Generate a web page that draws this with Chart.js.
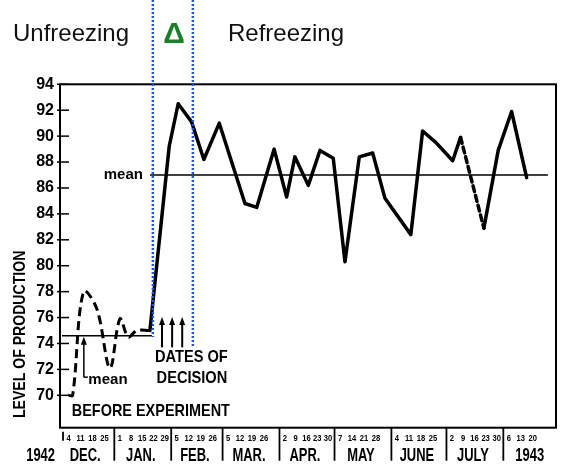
<!DOCTYPE html>
<html>
<head>
<meta charset="utf-8">
<script src="https://cdn.jsdelivr.net/npm/chart.js@4.4.0/dist/chart.umd.min.js"></script>
<style>
    html, body { margin: 0; padding: 0; background: #fff; }
    #wrap { position: relative; width: 564px; height: 473px; overflow: hidden; }
    #chart { position: absolute; left: 0; top: 0; }
    .phase {
        position: absolute; top: 19px; line-height: 28px;
        font-family: 'Liberation Sans', Arial, sans-serif; font-size: 24px; color: #111;
    }
    #delta {
        top: 16px; left: 154px; width: 40px; text-align: center;
        font-size: 30px; line-height: 34px; font-weight: bold; color: #1b7f2a;
    }
</style>
</head>
<body>
<div id="wrap">
    <canvas id="chart" width="564" height="473"></canvas>
    <div class="phase" style="left: 13px;">Unfreezing</div>
    <div class="phase" id="delta">Δ</div>
    <div class="phase" style="left: 228px;">Refreezing</div>
</div>
<script>
// x values are days counted from 1 Dec 1942
const yTicks = [70, 72, 74, 76, 78, 80, 82, 84, 86, 88, 90, 92, 94];
const weekLabels = ['4', '11', '18', '25', '1', '8', '15', '22', '29', '5', '12', '19', '26',
    '5', '12', '19', '26', '2', '9', '16', '23', '30', '7', '14', '21', '28',
    '4', '11', '18', '25', '2', '9', '16', '23', '30', '6', '13', '20'];
const weekDays = [3, 10, 17, 24, 31, 38, 45, 52, 59, 66, 73, 80, 87,
    94, 101, 108, 115, 122, 129, 136, 143, 150, 157, 164, 171, 178,
    185, 192, 199, 206, 213, 220, 227, 234, 241, 248, 255, 262];
const monthNames = ['DEC.', 'JAN.', 'FEB.', 'MAR.', 'APR.', 'MAY', 'JUNE', 'JULY'];
const monthStartDays = [0, 31, 62, 90, 121, 151, 182, 212, 243];
const yearLabels = ['1942', '1943'];

// before experiment (dashed)
const beforeDays = [5.9, 8.3, 14.2, 21.4, 28.6, 34.1, 38.6, 43.2, 50.4];
const beforeLevels = [70.0, 70.0, 78.0, 76.7, 72.1, 75.9, 74.5, 75.0, 75.0];

// after decision (solid)
const afterDays = [50.4, 60.9, 65.8, 73.1, 79.8, 88.2, 102.2, 108.6, 118.1, 124.9, 129.4,
    136.7, 143.1, 150.3, 156.7, 164.5, 171.8, 178.5, 192.6, 199.0, 206.3, 215.4,
    219.7, 232.4, 240.2, 247.5, 255.7];
const afterLevels = [75.0, 89.2, 92.5, 91.1, 88.2, 91.0, 84.8, 84.5, 89.0, 85.3, 88.4,
    86.2, 88.9, 88.3, 80.3, 88.4, 88.7, 85.2, 82.4, 90.4, 89.5, 88.1,
    89.9, 82.9, 88.9, 91.9, 86.8];
const dashedAfterIndex = 22; // segment drawn dashed in July

const meanBefore = 74.6;
const meanBeforeSpan = [2.5, 51.5];
const meanAfter = 87.0;
const meanAfterSpan = [50.4, 267.3];

const decisionDays = [57, 62.5, 68];
const boundaryDays = [52.0, 73.8];
const boundaryBottoms = [74.5, 73.7];

const FONT = "'Liberation Sans', Arial, sans-serif";

function squeezeText(ctx, text, px, py, font, sx, align) {
    ctx.save();
    ctx.font = font;
    ctx.textBaseline = 'middle';
    ctx.textAlign = align || 'center';
    ctx.translate(px, py);
    ctx.scale(sx, 1);
    ctx.fillText(text, 0, 0);
    ctx.restore();
}

function arrowUp(ctx, px, yTop, yBottom) {
    ctx.beginPath();
    ctx.moveTo(px, yBottom);
    ctx.lineTo(px, yTop + 6);
    ctx.stroke();
    ctx.beginPath();
    ctx.moveTo(px, yTop);
    ctx.lineTo(px - 3, yTop + 8);
    ctx.lineTo(px + 3, yTop + 8);
    ctx.closePath();
    ctx.fill();
}

const decor = {
    id: 'decor',
    afterDraw(chart) {
        const { ctx, chartArea: a, scales: { x, y } } = chart;
        ctx.save();
        ctx.strokeStyle = '#000';
        ctx.fillStyle = '#000';

        // frame
        ctx.lineWidth = 2;
        ctx.strokeRect(a.left, a.top, a.right - a.left, a.bottom - a.top);

        // y ticks crossing the axis
        ctx.lineWidth = 1.5;
        yTicks.forEach(v => {
            const py = y.getPixelForValue(v);
            ctx.beginPath();
            ctx.moveTo(a.left - 3, py);
            ctx.lineTo(a.left + 9, py);
            ctx.stroke();
        });

        // month strip below the axis
        const sepPx = monthStartDays.map((d, i) => i === 0 ? a.left + 3 : x.getPixelForValue(d));
        ctx.lineWidth = 1.8;
        sepPx.forEach((px, i) => {
            ctx.beginPath();
            ctx.moveTo(px, i === 0 ? a.bottom + 4 : a.bottom);
            ctx.lineTo(px, i === 0 ? a.bottom + 13 : a.bottom + 33);
            ctx.stroke();
        });

        // week dates, packed inside each month box like the original strip
        const weekFont = 'bold 9.5px ' + FONT;
        sepPx.forEach((l, m) => {
            const nextDay = m + 1 < monthStartDays.length ? monthStartDays[m + 1] : monthStartDays[m] + 31;
            const r = x.getPixelForValue(nextDay);
            const labels = weekLabels.filter((t, i) => weekDays[i] >= monthStartDays[m] && weekDays[i] < nextDay);
            if (!labels.length) return;
            const step = labels.length > 1 ? Math.min((r - l - 12) / (labels.length - 1), 12) : 0;
            labels.forEach((t, k) => {
                squeezeText(ctx, t, l + 5.5 + k * step, a.bottom + 10.5, weekFont, 0.8);
            });
        });

        const monthFont = 'bold 18px ' + FONT;
        const my = a.bottom + 28;
        monthNames.forEach((m, i) => {
            const l = i === 0 ? a.left : sepPx[i];
            const r = sepPx[i + 1];
            squeezeText(ctx, m, (l + r) / 2 - 2, my, monthFont, 0.72);
        });
        squeezeText(ctx, yearLabels[0], a.left - 5, my, monthFont, 0.72, 'right');
        squeezeText(ctx, yearLabels[1], (sepPx[8] + a.right) / 2, my, monthFont, 0.72);

        // y axis title
        ctx.save();
        ctx.translate(21, y.getPixelForValue(74.7));
        ctx.rotate(-Math.PI / 2);
        squeezeText(ctx, 'LEVEL OF PRODUCTION', 0, 0, 'bold 16px ' + FONT, 0.88);
        ctx.restore();

        // mean labels
        const meanFont = 'bold 15px ' + FONT;
        squeezeText(ctx, 'mean', x.getPixelForValue(meanAfterSpan[0]) - 7, y.getPixelForValue(meanAfter),
            meanFont, 1, 'right');
        const ax = x.getPixelForValue(14.4);
        const ayTop = y.getPixelForValue(meanBefore) + 1;
        const ayBot = y.getPixelForValue(71.4);
        ctx.lineWidth = 1.5;
        arrowUp(ctx, ax, ayTop, ayBot);
        ctx.beginPath();
        ctx.moveTo(ax, ayBot);
        ctx.lineTo(ax + 4, ayBot);
        ctx.stroke();
        squeezeText(ctx, 'mean', ax + 4.5, y.getPixelForValue(71.2), meanFont, 1, 'left');

        // dates of decision
        ctx.lineWidth = 2;
        decisionDays.forEach(d => {
            arrowUp(ctx, x.getPixelForValue(d), y.getPixelForValue(76.05), y.getPixelForValue(73.7));
        });
        const noteFont = 'bold 17px ' + FONT;
        squeezeText(ctx, 'DATES OF', x.getPixelForValue(73.0), y.getPixelForValue(72.9), noteFont, 0.86);
        squeezeText(ctx, 'DECISION', x.getPixelForValue(73.3), y.getPixelForValue(71.3), noteFont, 0.86);
        squeezeText(ctx, 'BEFORE EXPERIMENT', x.getPixelForValue(50.9), y.getPixelForValue(68.75), noteFont, 0.85);

        // blue dotted phase boundaries
        ctx.strokeStyle = '#1f52ee';
        ctx.lineWidth = 2.5;
        ctx.setLineDash([2, 2]);
        boundaryDays.forEach((d, i) => {
            const px = x.getPixelForValue(d);
            ctx.beginPath();
            ctx.moveTo(px, 0);
            ctx.lineTo(px, y.getPixelForValue(boundaryBottoms[i]));
            ctx.stroke();
        });
        ctx.restore();
    }
};

const toPoints = (xs, ys) => xs.map((v, i) => ({ x: v, y: ys[i] }));

new Chart(document.getElementById('chart'), {
    type: 'line',
    data: {
        datasets: [
            {
                label: 'Before experiment',
                data: toPoints(beforeDays, beforeLevels),
                borderColor: '#000',
                borderWidth: 3,
                borderDash: [9, 5],
                tension: 0.35,
                pointRadius: 0,
                fill: false
            },
            {
                label: 'After decision',
                data: toPoints(afterDays, afterLevels),
                borderColor: '#000',
                borderWidth: 3.5,
                borderJoinStyle: 'round',
                borderCapStyle: 'round',
                pointRadius: 0,
                fill: false,
                segment: {
                    borderDash: c => c.p0DataIndex === dashedAfterIndex ? [6, 4] : undefined
                }
            },
            {
                label: 'Mean before',
                data: meanBeforeSpan.map(d => ({ x: d, y: meanBefore })),
                borderColor: '#000',
                borderWidth: 1.5,
                pointRadius: 0
            },
            {
                label: 'Mean after',
                data: meanAfterSpan.map(d => ({ x: d, y: meanAfter })),
                borderColor: '#000',
                borderWidth: 1.5,
                pointRadius: 0
            }
        ]
    },
    options: {
        responsive: false,
        animation: false,
        devicePixelRatio: 1,
        layout: { padding: { top: 84.3, right: 8, bottom: 0, left: 0 } },
        plugins: {
            legend: { display: false },
            tooltip: { enabled: false }
        },
        scales: {
            x: {
                type: 'linear',
                min: 1.4,
                max: 271.7,
                afterBuildTicks: s => { s.ticks = weekDays.map(v => ({ value: v })); },
                afterFit: s => { s.height = 45.3; },
                grid: { display: false, drawTicks: false },
                border: { display: false },
                ticks: { display: false }
            },
            y: {
                min: 67.5,
                max: 94,
                afterBuildTicks: s => { s.ticks = yTicks.map(v => ({ value: v })); },
                afterFit: s => { s.width = 60; },
                grid: { display: true, drawOnChartArea: false, drawTicks: false },
                border: { display: false },
                ticks: {
                    padding: 6,
                    color: '#000',
                    font: { family: FONT, size: 16, weight: 'bold' }
                }
            }
        }
    },
    plugins: [decor]
});
</script>
</body>
</html>
